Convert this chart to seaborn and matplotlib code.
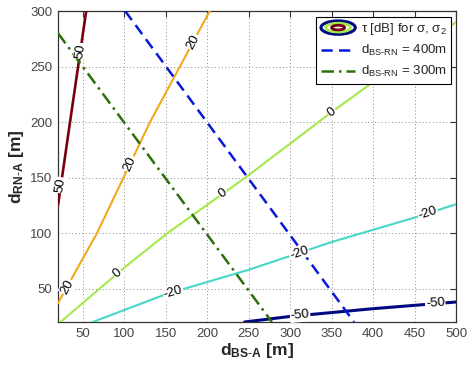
import numpy as np
import pandas as pd
import matplotlib
matplotlib.use("Agg")
import matplotlib.pyplot as plt
import seaborn as sns
from matplotlib.legend_handler import HandlerBase
from matplotlib.patches import Ellipse
from matplotlib.lines import Line2D

# ---- data ----
lvl_m50_x = [245, 300, 400, 500]
lvl_m50_y = [20, 25, 32, 38]
lvl_m20_x = [62, 150, 250, 350, 450, 500]
lvl_m20_y = [20, 45, 67, 92, 114, 126]
lvl_0_x = [23, 100, 152, 246, 350, 500]
lvl_0_y = [20, 69, 100, 150, 209, 290]
lvl_20_x = [20, 67, 131, 203]
lvl_20_y = [37, 100, 200, 300]
lvl_50_x = [20, 34.5, 54]
lvl_50_y = [125, 200, 300]

bsrn400_x = [101, 377]
bsrn400_y = [300, 20]
bsrn300_x = [20, 278]
bsrn300_y = [280, 20]

levels = ["-50", "-20", "0", "20", "50"]
label_x = {"-50": [312, 475], "-20": [159, 311, 466], "0": [92, 219, 350],
           "20": [31, 107, 183], "50": [23.5, 47]}

x_ticks = [50, 100, 150, 200, 250, 300, 350, 400, 450, 500]
y_ticks = [50, 100, 150, 200, 250, 300]

colors = {"-50": "#000a80", "-20": "#45d8c8", "0": "#a4e84c", "20": "#f2a81a", "50": "#760010"}
widths = {"-50": 2.2, "-20": 1.5, "0": 1.5, "20": 1.5, "50": 1.9}

series = {"-50": (lvl_m50_x, lvl_m50_y), "-20": (lvl_m20_x, lvl_m20_y),
          "0": (lvl_0_x, lvl_0_y), "20": (lvl_20_x, lvl_20_y), "50": (lvl_50_x, lvl_50_y)}

sns.set_style("white")
plt.rcParams['font.family'] = ['Liberation Sans', 'DejaVu Sans']
plt.rcParams['mathtext.fontset'] = 'custom'
plt.rcParams['mathtext.rm'] = 'Liberation Sans'
plt.rcParams['mathtext.it'] = 'Liberation Sans:italic'
plt.rcParams['mathtext.bf'] = 'Liberation Sans:bold'

fig = plt.figure(figsize=(4.74, 3.65), dpi=100)
ax = fig.add_axes([58/474, 1-322/365, 398/474, 311/365])
ax.set_xlim(20, 500)
ax.set_ylim(20, 300)

for lv in levels:
    xs, ys = series[lv]
    df = pd.DataFrame({"x": xs, "y": ys})
    sns.lineplot(data=df, x="x", y="y", ax=ax, sort=False, color=colors[lv],
                 lw=widths[lv], zorder=3, legend=False)

df400 = pd.DataFrame({"x": bsrn400_x, "y": bsrn400_y})
df300 = pd.DataFrame({"x": bsrn300_x, "y": bsrn300_y})
sns.lineplot(data=df400, x="x", y="y", ax=ax, sort=False, color="#0a18d8",
             lw=1.8, zorder=4, legend=False)
ax.lines[-1].set_linestyle((0, (4.5, 2.5)))
sns.lineplot(data=df300, x="x", y="y", ax=ax, sort=False, color="#2e6e0a",
             lw=1.8, zorder=4, legend=False)
ax.lines[-1].set_linestyle((0, (5, 2, 1, 2)))

ax.set_xticks(x_ticks)
ax.set_yticks(y_ticks)
ax.grid(True, linestyle=(0, (1, 2.5)), color="#8a8a8a", lw=0.7)
ax.tick_params(direction="in", length=4, top=True, right=True, labelsize=9.5,
               labelcolor="#444444", color="#333333", pad=4)
for s in ax.spines.values():
    s.set_color("#333333")
    s.set_linewidth(0.9)
    s.set_visible(True)

ax.set_xlabel(r"$\mathbf{d}_{\mathregular{BS\text{-}A}}$ [m]", fontsize=12.5, fontweight="bold", labelpad=1)
ax.set_ylabel(r"$\mathbf{d}_{\mathregular{RN\text{-}A}}$ [m]", fontsize=12.5, fontweight="bold", labelpad=3)

fig.canvas.draw()
# contour labels
for lv in levels:
    xs, ys = series[lv]
    for lx in label_x[lv]:
        ly = np.interp(lx, xs, ys)
        p1 = ax.transData.transform((lx - 3, np.interp(lx - 3, xs, ys)))
        p2 = ax.transData.transform((lx + 3, np.interp(lx + 3, xs, ys)))
        ang = np.degrees(np.arctan2(p2[1] - p1[1], p2[0] - p1[0]))
        ax.text(lx, ly, lv, rotation=ang, rotation_mode="anchor", ha="center", va="center",
                fontsize=9.5, color="black", zorder=6,
                bbox=dict(boxstyle="square,pad=0.05", fc="white", ec="none"))


class ContourIcon:
    pass


class ContourHandler(HandlerBase):
    def create_artists(self, legend, orig_handle, xdescent, ydescent, width, height, fontsize, trans):
        cx = width / 2 - xdescent
        cy = height / 2 - ydescent
        arts = []
        for w, h, c, lw in [(width * 1.0, height * 1.45, "#000a80", 2.2),
                            (width * 0.72, height * 0.95, "#a4e84c", 2.0),
                            (width * 0.38, height * 0.5, "#760010", 2.0)]:
            e = Ellipse((cx, cy), w, h, fill=False, edgecolor=c, lw=lw, transform=trans)
            arts.append(e)
        return arts


handles = [ContourIcon(),
           Line2D([], [], color="#0a18d8", lw=1.8, linestyle=(0, (4.5, 2.5))),
           Line2D([], [], color="#2e6e0a", lw=1.8, linestyle=(0, (5, 2, 1, 2)))]
labels = [r"τ [dB] for σ, σ$_2$",
          r"d$_{\mathregular{BS\text{-}RN}}$ = 400m",
          r"d$_{\mathregular{BS\text{-}RN}}$ = 300m"]
leg = ax.legend(handles, labels, handler_map={ContourIcon: ContourHandler()},
                loc="upper right", bbox_to_anchor=(0.988, 0.982), fontsize=9.5,
                fancybox=False, framealpha=1, edgecolor="black", handlelength=2.6,
                handletextpad=0.4, borderpad=0.35, labelspacing=0.45, borderaxespad=0)
leg.get_frame().set_linewidth(0.8)
leg.set_zorder(10)

fig.savefig("out.png", dpi=100)
